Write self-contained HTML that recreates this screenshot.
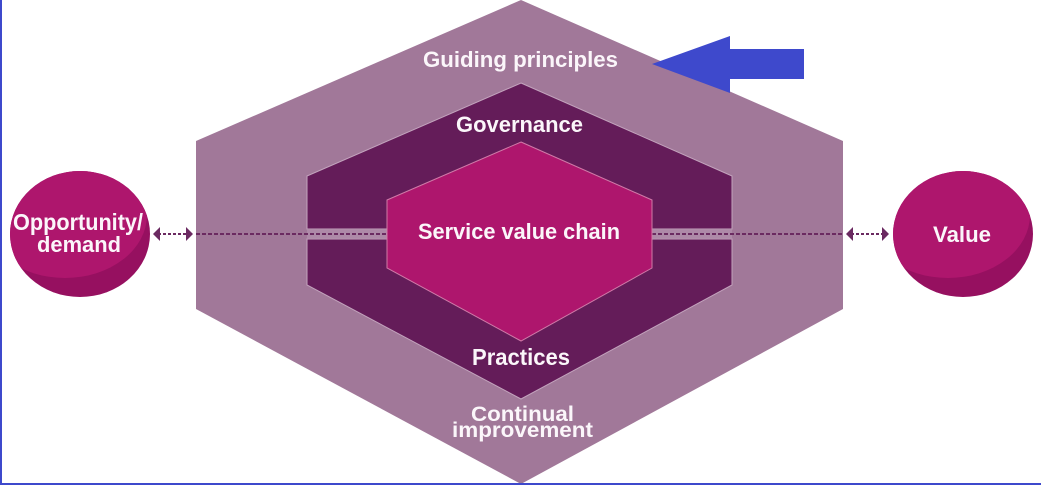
<!DOCTYPE html>
<html>
<head>
<meta charset="utf-8">
<style>
  html, body { margin:0; padding:0; background:#fff; }
  body { width:1041px; height:485px; overflow:hidden; }
  svg { display:block; }
  text { font-family: "Liberation Sans", sans-serif; font-weight:bold; fill:#fbf6fa; }
</style>
</head>
<body>
<svg width="1041" height="485" viewBox="0 0 1041 485" xmlns="http://www.w3.org/2000/svg">
  <defs>
    <clipPath id="ovL"><ellipse cx="80" cy="234" rx="70" ry="63"/></clipPath>
    <clipPath id="ovR"><ellipse cx="963" cy="234" rx="70" ry="63"/></clipPath>
  </defs>
  <rect width="1041" height="485" fill="#fff"/>

  <!-- Outer hexagon -->
  <polygon points="521,0 843,141 843,309 521,484 196,309 196,141" fill="#a17899"/>

  <!-- Middle hexagon (two halves with channel) -->
  <polygon points="521,83 732,176 732,229 307,229 307,176" fill="#641c59" stroke="#c3a3bd" stroke-width="1"/>
  <polygon points="307,239 732,239 732,285 521,399 307,285" fill="#641c59" stroke="#c3a3bd" stroke-width="1"/>
  <!-- channel band -->
  <rect x="307" y="230" width="425" height="8" fill="#ae89a8"/>

  <!-- dashed connector -->
  <line x1="196" y1="234" x2="843" y2="234" stroke="#6b2a61" stroke-width="2" stroke-dasharray="4,2"/>

  <!-- Inner hexagon -->
  <polygon points="521,142 652,200 652,268 521,341 387,268 387,200" fill="#ae166d" stroke="#d07aa8" stroke-width="1"/>

  <!-- Left double arrow -->
  <line x1="158" y1="234" x2="188" y2="234" stroke="#6b2a61" stroke-width="2" stroke-dasharray="3,2"/>
  <polygon points="153,234 160,227 160,241" fill="#6b2a61"/>
  <polygon points="193,234 186,227 186,241" fill="#6b2a61"/>
  <!-- Right double arrow -->
  <line x1="851" y1="234" x2="884" y2="234" stroke="#6b2a61" stroke-width="2" stroke-dasharray="3,2"/>
  <polygon points="846,234 853,227 853,241" fill="#6b2a61"/>
  <polygon points="889,234 882,227 882,241" fill="#6b2a61"/>

  <!-- Left oval -->
  <g clip-path="url(#ovL)">
    <rect x="0" y="160" width="160" height="150" fill="#961060"/>
    <ellipse cx="65" cy="215" rx="82" ry="63" fill="#ae166d"/>
  </g>
  <!-- Right oval -->
  <g clip-path="url(#ovR)">
    <rect x="880" y="160" width="160" height="150" fill="#961060"/>
    <ellipse cx="948" cy="215" rx="82" ry="63" fill="#ae166d"/>
  </g>

  <!-- Blue arrow -->
  <polygon points="652,64 730,36 730,49 804,49 804,79 730,79 730,93" fill="#3e49cc"/>

  <!-- Labels -->
  <text x="423" y="67" font-size="22" textLength="195" lengthAdjust="spacingAndGlyphs">Guiding principles</text>
  <text x="456" y="132" font-size="22" textLength="127" lengthAdjust="spacingAndGlyphs">Governance</text>
  <text x="418" y="239" font-size="22" textLength="202" lengthAdjust="spacingAndGlyphs">Service value chain</text>
  <text x="472" y="365" font-size="23" textLength="98" lengthAdjust="spacingAndGlyphs">Practices</text>
  <text x="471" y="421" font-size="21" textLength="103" lengthAdjust="spacingAndGlyphs">Continual</text>
  <text x="452" y="437" font-size="21" textLength="141" lengthAdjust="spacingAndGlyphs">improvement</text>
  <text x="13" y="230" font-size="23" textLength="130" lengthAdjust="spacingAndGlyphs">Opportunity/</text>
  <text x="37" y="252" font-size="22" textLength="84" lengthAdjust="spacingAndGlyphs">demand</text>
  <text x="933" y="242" font-size="22" textLength="58" lengthAdjust="spacingAndGlyphs">Value</text>

  <!-- Blue frame lines (left & bottom) -->
  <rect x="0" y="0" width="2" height="485" fill="#3e49cc"/>
  <rect x="0" y="483" width="1041" height="2" fill="#3e49cc"/>
</svg>
</body>
</html>
